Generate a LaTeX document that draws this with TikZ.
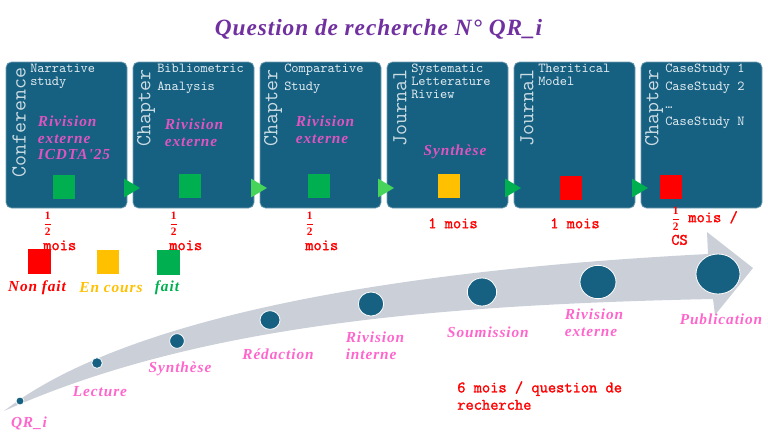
\documentclass[tikz,border=0pt]{standalone}
\usepackage{fontspec}
\setmainfont{Liberation Serif}
\newfontfamily\wideserif[LetterSpace=6]{Liberation Serif}
\newfontfamily\titleserif[LetterSpace=4]{Liberation Serif}
\newfontfamily\heavymono[FakeBold=1.6]{Latin Modern Mono}
\usepackage{xcolor}
\usetikzlibrary{
    positioning,
    shapes.geometric,
    calc
  }
\definecolor{boxblue}{RGB}{22,96,130}
\definecolor{arrowgray}{RGB}{203,208,216}
\definecolor{donegreen}{RGB}{0,176,80}
\definecolor{lightgreen}{RGB}{71,212,90}
\definecolor{coursyellow}{RGB}{255,192,0}
\definecolor{titlepurple}{RGB}{112,48,160}
\definecolor{boxpink}{RGB}{222,84,192}
\definecolor{steppink}{RGB}{255,102,204}
\tikzset{
  boxstep/.style={fill=boxblue,draw=boxblue!60!white,line width=.5pt,rounded corners=4pt,
    minimum width=90.75pt,minimum height=109.5pt,outer sep=0pt,inner sep=0pt},
  vtitle/.style={rotate=90,anchor=east,inner sep=0pt,text=white!78!boxblue,font=\ttfamily\fontsize{16}{17}\selectfont},
  btext/.style={anchor=north west,inner sep=0pt,align=left,text=white!88!boxblue,font=\ttfamily\fontsize{10.3}{9.8}\selectfont},
  bnote/.style={align=left,inner sep=0pt,text=boxpink,font=\wideserif\bfseries\itshape\fontsize{11.5}{12.5}\selectfont},
  flag/.style={minimum width=16.5pt,minimum height=18pt,inner sep=0pt,outer sep=0pt},
  tri/.style={isosceles triangle,isosceles triangle apex angle=61,minimum height=12pt,inner sep=0pt,outer sep=0pt,anchor=west},
  duree/.style={anchor=north west,inner sep=0pt,align=left,text=red,font=\heavymono\fontsize{12}{12}\selectfont},
  legende/.style={inner sep=0pt,font=\wideserif\bfseries\itshape\fontsize{11.5}{12}\selectfont},
  jalon/.style={ellipse,fill=boxblue,draw=white,line width=.6pt,inner sep=0pt},
  etape/.style={align=left,inner sep=0pt,text=steppink,font=\wideserif\bfseries\itshape\fontsize{11.5}{12.5}\selectfont}
}
\newcommand{\demi}{{\fontsize{8.5}{9}\selectfont$\displaystyle\frac{\mathbf{1}}{\mathbf{2}}$}}
\begin{document}
\begin{tikzpicture}[x=.75pt,y=-.75pt]
  \useasboundingbox (0,0) rectangle (768,433);
  \node [text=titlepurple,font=\titleserif\bfseries\itshape\fontsize{17.5}{18}\selectfont] (title) at (378.5,29) {Question de recherche N° QR\_i};
% the long arrow
  \fill [arrowgray] (4,411) .. controls (95,340) and (300,275) .. (708,254)
     -- (707,232) -- (753,268) -- (715,315) -- (713,299)
     .. controls (420,305) and (190,328) .. (4,411) -- cycle;
% boxes
  \node [boxstep] (boxa) at (66.5,135) {};
  \node [boxstep, right=4.5pt of boxa] (boxb) {};
  \node [boxstep, right=4.5pt of boxb] (boxc) {};
  \node [boxstep, right=4.5pt of boxc] (boxd) {};
  \node [boxstep, right=4.5pt of boxd] (boxe) {};
  \node [boxstep, right=4.5pt of boxe] (boxf) {};
%
  \node [vtitle] (va) at (19,67) {Conference};
  \node [vtitle] (vb) at (146,69) {Chapter};
  \node [vtitle] (vc) at (273,69) {Chapter};
  \node [vtitle] (vd) at (400,69) {Journal};
  \node [vtitle] (ve) at (527,69) {Journal};
  \node [vtitle] (vf) at (654,69) {Chapter};
%
  \node [btext] (ta) at (30,64) {Narrative\\study};
  \node [btext] (tb) at (157,64) {Bibliometric\\[3.5pt]Analysis};
  \node [btext] (tc) at (284,64) {Comparative\\[3.5pt]Study};
  \node [btext] (td) at (411,64) {Systematic\\Letterature\\Riview};
  \node [btext] (te) at (538,64) {Theritical\\Model};
  \node [btext] (tf) at (665,64) {CaseStudy 1\\[3.5pt]CaseStudy 2\\[3.5pt]…\\[3pt]CaseStudy N};
%
  \node [bnote] (na) at (74,138) {Rivision\\externe\\ICDTA'25};
  \node [bnote] (nb) at (194,133) {Rivision\\externe};
  \node [bnote] (nc) at (325,130) {Rivision\\externe};
  \node [bnote] (nd) at (455,152) {Synthèse};
% status squares
  \node [flag,fill=donegreen] (fa) at (64,187) {};
  \node [flag,fill=donegreen] (fb) at (190,186) {};
  \node [flag,fill=donegreen] (fc) at (319,186) {};
  \node [flag,fill=coursyellow] (fd) at (448.5,186) {};
  \node [flag,fill=red] (fe) at (571,188) {};
  \node [flag,fill=red] (ff) at (671,187) {};
% triangles between boxes
  \node [tri,fill=donegreen] (ga) at (124,188) {};
  \node [tri,fill=lightgreen] (gb) at (251,188) {};
  \node [tri,fill=lightgreen] (gc) at (378,188) {};
  \node [tri,fill=donegreen] (gd) at (505,188) {};
  \node [tri,fill=donegreen] (ge) at (632,188) {};
% durations
  \node [duree] (da) at (43,212) {\demi\\[3pt]mois};
  \node [duree] (db) at (169,212) {\demi\\[3pt]mois};
  \node [duree] (dc) at (305,212) {\demi\\[3pt]mois};
  \node [duree] (dd) at (428,218) {1 mois};
  \node [duree] (de) at (550,218) {1 mois};
  \node [duree] (df) at (671,207) {\demi{} mois /\\[2.5pt]CS};
  \node [duree] (dg) at (457,381) {6 mois / question de\\[1pt]recherche};
% legend
  \node [flag,fill=red,minimum width=17pt,minimum height=18.75pt] (lr) at (39.5,261.5) {};
  \node [flag,fill=coursyellow,minimum width=17pt,minimum height=18pt] (ly) at (108,262) {};
  \node [flag,fill=donegreen,minimum width=17.5pt,minimum height=18.75pt] (lg) at (168.5,262.5) {};
  \node [legende,text=red] (tr) at (37,288) {Non fait};
  \node [legende,text=coursyellow] (ty) at (111,288) {En cours};
  \node [legende,text=donegreen] (tg) at (167,288) {fait};
% milestones
  \node [jalon,minimum width=6pt,minimum height=6pt] (ma) at (20,401) {};
  \node [jalon,minimum width=8pt,minimum height=8pt] (mb) at (97,363) {};
  \node [jalon,minimum width=11pt,minimum height=11pt] (mc) at (177,341) {};
  \node [jalon,minimum width=15pt,minimum height=14pt] (md) at (270,320) {};
  \node [jalon,minimum width=19pt,minimum height=18pt] (me) at (371,304) {};
  \node [jalon,minimum width=22pt,minimum height=21pt] (mf) at (482,292) {};
  \node [jalon,minimum width=27pt,minimum height=25pt] (mg) at (598,282) {};
  \node [jalon,minimum width=33pt,minimum height=30pt] (mh) at (718,274) {};
%
  \node [etape] (ea) at (29,423) {QR\_i};
  \node [etape] (eb) at (100,392) {Lecture};
  \node [etape] (ec) at (180,369) {Synthèse};
  \node [etape] (ed) at (278,354) {Rédaction};
  \node [etape] (ee) at (375,346) {Rivision\\interne};
  \node [etape] (ef) at (488,332) {Soumission};
  \node [etape] (eg) at (594,323) {Rivision\\externe};
  \node [etape] (eh) at (721,319) {Publication};
\end{tikzpicture}
\end{document}
